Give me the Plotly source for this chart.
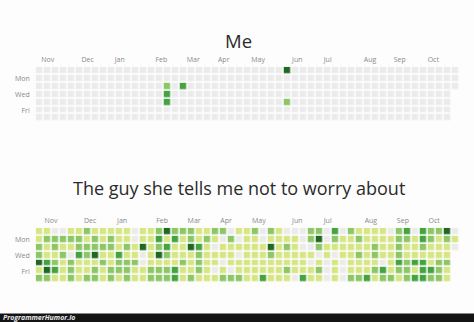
import plotly.graph_objects as go

# Contribution levels: 0 = none ... 4 = most
LEVEL_COLORS = ["#ebebeb", "#d6e685", "#8cc665", "#44a340", "#1e6823"]
DAY_LABELS = ["Mon", "Wed", "Fri"]
DAY_ROWS = [1, 3, 5]
N_WEEKS = 53

# Month label positions (in week columns)
MONTHS = ["Nov", "Dec", "Jan", "Feb", "Mar", "Apr", "May", "Jun", "Jul", "Aug", "Sep", "Oct"]
ME_MONTH_COLS = [1.0, 6.0, 10.0, 15.2, 19.2, 23.0, 27.3, 32.2, 36.0, 41.3, 45.0, 49.2]
GUY_MONTH_COLS = [1.4, 6.3, 10.3, 15.3, 19.3, 23.3, 27.4, 32.2, 36.0, 41.4, 45.4, 49.3]

# "Me": the only days with any activity (row = weekday, col = week, level)
ME_ROWS = [0, 2, 2, 3, 4, 4]
ME_COLS = [31, 16, 18, 16, 16, 31]
ME_LEVELS = [4, 2, 3, 3, 3, 2]

# "The guy": one list per weekday (Sun..Sat); last week is partial
GUY_SUN = [1,1,0,0,1,1,2,1,1,1, 1,1,0,1,1,2,4,2,2,2, 1,1,2,2,0,1,1,2,0,2, 1,0,0,0,2,2,0,3,0,2, 1,1,1,1,0,2,3,0,3,2, 2,4,0]
GUY_MON = [1,2,2,2,2,2,1,2,1,2, 1,1,0,1,1,3,1,3,1,2, 1,2,1,0,2,0,1,1,0,1, 1,1,1,0,2,4,0,2,1,1, 2,1,1,1,1,2,2,1,3,2, 1,2,1]
GUY_TUE = [2,1,2,1,1,2,2,2,2,2, 1,2,1,4,1,2,3,1,1,4, 3,1,0,1,1,1,1,1,1,4, 1,2,1,0,0,2,1,1,1,1, 1,1,2,1,1,2,1,1,2,1, 1,1,0]
GUY_WED = [2,1,1,2,0,3,2,4,1,1, 3,1,1,0,1,4,2,1,1,1, 2,1,1,1,1,0,1,1,1,2, 1,1,1,1,1,0,1,0,1,1, 2,1,2,1,1,2,1,1,1,1, 1,1,None]
GUY_THU = [4,3,2,1,2,1,1,1,2,1, 2,2,2,0,1,1,1,1,2,1, 2,1,1,0,1,1,1,1,1,1, 1,1,1,1,0,1,0,1,0,1, 1,1,1,0,1,3,2,3,3,1, 2,2,None]
GUY_FRI = [1,4,3,1,2,1,1,2,1,2, 2,2,1,1,2,2,2,3,1,1, 2,1,0,1,0,1,1,1,1,1, 1,2,1,1,1,2,0,1,0,1, 1,1,2,3,1,2,2,1,3,3, 2,1,None]
GUY_SAT = [2,2,1,1,2,1,2,2,1,2, 1,2,1,1,2,2,2,3,1,2, 1,1,1,2,2,2,1,1,3,1, 1,1,0,3,1,1,0,1,0,2, 2,3,1,2,2,1,2,3,3,2, 2,1,None]
GUY_GRID = [GUY_SUN, GUY_MON, GUY_TUE, GUY_WED, GUY_THU, GUY_FRI, GUY_SAT]

# Build the "Me" grid: empty everywhere, partial final week
me_grid = [[0] * N_WEEKS for _ in range(7)]
for r in range(3, 7):
    me_grid[r][N_WEEKS - 1] = None
for r, c, v in zip(ME_ROWS, ME_COLS, ME_LEVELS):
    me_grid[r][c] = v

# Stepped colour scale so each level gets one flat colour
colorscale = []
n = len(LEVEL_COLORS)
for i, col in enumerate(LEVEL_COLORS):
    colorscale.append([i / n, col])
    colorscale.append([(i + 1) / n, col])

FONT = "Open Sans"
LABEL_COLOR = "#8a8a8a"


def heat(z, xa, ya):
    return go.Heatmap(
        z=z, x=list(range(N_WEEKS)), y=list(range(7)),
        xaxis=xa, yaxis=ya, colorscale=colorscale,
        zmin=-0.5, zmax=n - 0.5, showscale=False,
        xgap=1.6, ygap=1.6, hoverinfo="skip",
    )


fig = go.Figure()
fig.add_trace(heat(me_grid, "x", "y"))
fig.add_trace(heat(GUY_GRID, "x2", "y2"))

X_DOMAIN = [35.7 / 474, 459.7 / 474]


def xaxis(anchor, tickvals):
    return dict(
        domain=X_DOMAIN, range=[-0.5, N_WEEKS - 0.5], anchor=anchor, side="top",
        tickvals=tickvals, ticktext=MONTHS, showgrid=False, zeroline=False,
        showline=False, ticks="", ticklabelstandoff=2,
        tickfont=dict(family=FONT, size=7, color=LABEL_COLOR), fixedrange=True,
    )


def yaxis(anchor, top_px, bottom_px):
    return dict(
        domain=[1 - bottom_px / 322, 1 - top_px / 322], range=[6.5, -0.5],
        anchor=anchor, tickvals=DAY_ROWS, ticktext=DAY_LABELS,
        showgrid=False, zeroline=False, showline=False, ticks="",
        ticklabelstandoff=5,
        tickfont=dict(family=FONT, size=7, color=LABEL_COLOR), fixedrange=True,
    )


fig.update_layout(
    width=474, height=322,
    margin=dict(l=0, r=0, t=0, b=0),
    paper_bgcolor="#fdfdfd", plot_bgcolor="rgba(0,0,0,0)",
    xaxis=xaxis("y", ME_MONTH_COLS),
    yaxis=yaxis("x", 66.8, 122.2),
    xaxis2=xaxis("y2", GUY_MONTH_COLS),
    yaxis2=yaxis("x2", 227.8, 283.0),
    showlegend=False,
)

fig.add_annotation(text="Me", x=238 / 474, y=1 - 26 / 322, xref="paper", yref="paper",
                   showarrow=False, font=dict(family=FONT, size=18.5, color="#2b2b2b"))
fig.add_annotation(text="The guy she tells me not to worry about", x=239 / 474,
                   y=1 - 188 / 322, xref="paper", yref="paper", showarrow=False,
                   font=dict(family=FONT, size=18, color="#2b2b2b"))

# Watermark strip along the bottom edge
fig.add_shape(type="rect", xref="paper", yref="paper", x0=0, x1=1, y0=0,
              y1=8.5 / 322, fillcolor="#141414", line=dict(width=0), layer="above")
fig.add_annotation(text="<b><i>ProgrammerHumor.io</i></b>", x=0.002, y=4.2 / 322,
                   xref="paper", yref="paper", xanchor="left", yanchor="middle",
                   showarrow=False, font=dict(family=FONT, size=7, color="#e8e8e8"))

fig.write_html("out.html")
